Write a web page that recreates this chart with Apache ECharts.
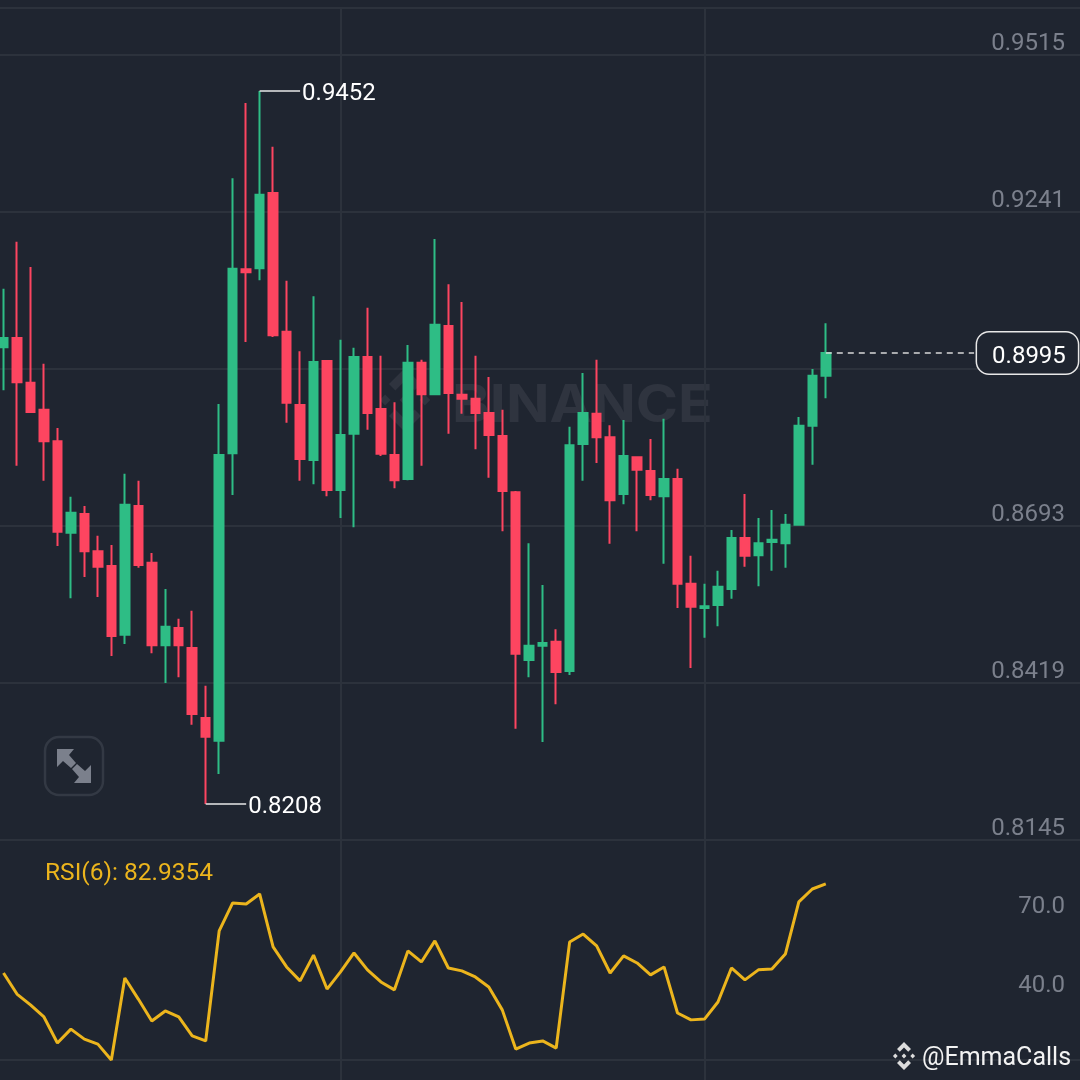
<!DOCTYPE html>
<html>
<head>
<meta charset="utf-8">
<style>html,body{margin:0;padding:0;background:#1f2530}#main{width:1080px;height:1080px}</style>
<script src="https://cdn.jsdelivr.net/npm/echarts@6/dist/echarts.min.js"></script>
</head>
<body>
<div id="main"></div>
<script>
var opens = [.9005,.9021,.8943,.8896,.8841,.8681,.8714,.8649,.8623,.8503,.8728,.8629,.8485,.8515,.8480,.8358,.8318,.8820,.9141,.9143,.9274,
  .9032,.8904,.8808,.8981,.8756,.8854,.8988,.8897,.8817,.8775,.8978,.8923,.9042,.8922,.8915,.8890,.8850,.8752,.8459,.8484,.8491,.8440,
  .8836,.8889,.8848,.8749,.8813,.8789,.8745,.8775,.8592,.8550,.8555,.8583,.8672,.8642,.8665,.8663,.8695,.8868,.8955];
var closes = [.9021,.8944,.8892,.8841,.8683,.8716,.8649,.8622,.8501,.8730,.8625,.8485,.8517,.8485,.8365,.8325,.8817,.9142,.9136,.9271,.9026,
  .8908,.8810,.8979,.8756,.8852,.8988,.8890,.8819,.8773,.8978,.8923,.9044,.8925,.8915,.8890,.8852,.8754,.8470,.8484,.8489,.8438,.8834,
  .8890,.8848,.8738,.8815,.8791,.8747,.8775,.8592,.8552,.8553,.8587,.8672,.8641,.8663,.8669,.8695,.8868,.8955,.8995];
var lows = [.8930,.8798,.8890,.8772,.8658,.8567,.8604,.8569,.8466,.8487,.8620,.8471,.8419,.8429,.8346,.8208,.8260,.8747,.9014,.9122,.9023,
  .8873,.8772,.8766,.8745,.8707,.8691,.8861,.8815,.8759,.8773,.8798,.8923,.8854,.8889,.8827,.8777,.8684,.8339,.8429,.8316,.8382,.8433,
  .8772,.8803,.8662,.8731,.8684,.8738,.8627,.8550,.8445,.8498,.8518,.8566,.8622,.8588,.8615,.8620,.8695,.8800,.8916];
var highs = [.9107,.9189,.9145,.8976,.8864,.8744,.8728,.8676,.8660,.8784,.8772,.8646,.8583,.8531,.8545,.8414,.8906,.9300,.9431,.9452,.9355,
  .9121,.8998,.9094,.8981,.9018,.9004,.9074,.8990,.8909,.9009,.8983,.9194,.9115,.9084,.8990,.8953,.8896,.8754,.8663,.8590,.8513,.8866,
  .8960,.8983,.8869,.8878,.8813,.8845,.8880,.8793,.8641,.8592,.8615,.8686,.8749,.8707,.8721,.8714,.8883,.8967,.9047];
var rsiValues = [49.1,41.1,37.0,32.4,22.5,27.8,24.0,22.1,16.1,47.2,39.2,30.9,34.7,32.4,25.2,23.3,65.1,75.7,75.3,79.1,59.0,
  51.4,46.1,55.9,43.0,49.5,56.7,50.3,45.7,42.7,57.5,53.3,61.3,51.0,49.9,47.6,43.8,35.1,20.2,22.5,23.3,20.6,60.9,
  63.9,59.4,49.1,55.6,52.9,48.4,51.4,33.9,31.3,31.6,38.1,51.0,46.5,50.3,50.6,56.3,76.1,81.0,82.9354];
var priceTicks = [0.8145, 0.8419, 0.8693, 0.8967, 0.9241, 0.9515, 0.9597];
var priceLabels = [0.8145, 0.8419, 0.8693, 0.9241, 0.9515];
var rsiTicks = [16.07];
var rsiLabels = [40, 70];
var timeLines = [25, 52];
var highPoint = { index: 19, value: 0.9452 };
var lowPoint = { index: 15, value: 0.8208 };
var lastPrice = 0.8995;

var candles = opens.map(function (o, i) { return [o, closes[i], lows[i], highs[i]] });
// empty slots on the right, the chart runs on past the last candle
var ids = [];
for (var i = 0; i < 81; i++) ids.push(String(i));

var bg = '#1f2530', gridCol = '#2c323c', axisText = '#7b808c', up = '#2ebd85', down = '#fd4560', rsiCol = '#ecb51d';

function logo(cx, cy, r, color, z) {
  var shapes = [
    [[0, -.17], [.17, 0], [0, .17], [-.17, 0]],
    [[-.62, -.17], [-.45, 0], [-.62, .17], [-.79, 0]],
    [[.62, -.17], [.79, 0], [.62, .17], [.45, 0]],
    [[0, -1], [.5, -.5], [.3, -.3], [0, -.6], [-.3, -.3], [-.5, -.5]],
    [[0, 1], [.5, .5], [.3, .3], [0, .6], [-.3, .3], [-.5, .5]]
  ];
  return shapes.map(function (pts) {
    return {
      type: 'polygon', silent: true, z: z,
      shape: { points: pts.map(function (p) { return [cx + p[0] * r, cy + p[1] * r] }) },
      style: { fill: color }
    };
  });
}

var xBase = {
  type: 'category', data: ids,
  axisLine: { show: false }, axisTick: { show: false }, axisLabel: { show: false },
  splitLine: {
    show: true, alignWithLabel: true,
    interval: function (i) { return timeLines.indexOf(i) >= 0 },
    lineStyle: { color: gridCol, width: 2 }
  }
};
var labelBase = {
  inside: true, margin: 23.6, color: axisText, fontFamily: 'Roboto', fontSize: 24,
  verticalAlign: 'bottom', lineHeight: 22
};
var markLabel = { show: true, position: 'end', distance: 2, offset: [0, 3], color: '#fff', fontFamily: 'Roboto', fontSize: 24 };

var myChart = echarts.init(document.getElementById('main'));
myChart.setOption({
  animation: false,
  backgroundColor: bg,
  grid: [
    { left: -3.24, width: 1091.9, top: 8, height: 832, outerBoundsMode: 'none' },
    { left: -3.24, width: 1091.9, top: 840, height: 240, outerBoundsMode: 'none' }
  ],
  xAxis: [
    xBase,
    Object.assign({}, xBase, { gridIndex: 1 })
  ],
  yAxis: [{
    position: 'right', min: 0.8145, max: 0.9597,
    axisLine: { show: false },
    axisTick: { show: false, customValues: priceTicks },
    axisLabel: Object.assign({}, labelBase, {
      customValues: priceLabels,
      formatter: function (v) { return Number(v).toFixed(4) }
    }),
    splitLine: { show: true, lineStyle: { color: gridCol, width: 2 } }
  }, {
    gridIndex: 1, position: 'right', min: 8.47, max: 99.6,
    axisLine: { show: false },
    axisTick: { show: false, customValues: rsiTicks },
    axisLabel: Object.assign({}, labelBase, {
      customValues: rsiLabels,
      formatter: function (v) { return Number(v).toFixed(1) }
    }),
    splitLine: { show: true, lineStyle: { color: gridCol, width: 2 } }
  }],
  series: [{
    type: 'candlestick',
    data: candles,
    barWidth: 9,
    itemStyle: { color: up, color0: down, borderColor: up, borderColor0: down, borderWidth: 2 },
    markLine: {
      silent: true, symbol: ['none', 'none'], animation: false,
      data: [
        [{
          coord: [highPoint.index, highPoint.value],
          lineStyle: { color: '#e8e8e8', width: 1.5, type: 'solid' },
          label: Object.assign({}, markLabel, { formatter: highPoint.value.toFixed(4) })
        }, { coord: [highPoint.index + 3, highPoint.value] }],
        [{
          coord: [lowPoint.index, lowPoint.value],
          lineStyle: { color: '#e8e8e8', width: 1.5, type: 'solid' },
          label: Object.assign({}, markLabel, { formatter: lowPoint.value.toFixed(4) })
        }, { coord: [lowPoint.index + 3, lowPoint.value] }],
        [{
          coord: [opens.length - 1, lastPrice],
          lineStyle: { color: '#d8d8d8', width: 1.5, type: [6, 5] },
          label: Object.assign({}, markLabel, {
            offset: [0, 0], distance: 3,
            formatter: '{t|' + lastPrice.toFixed(4) + '}',
            rich: { t: { color: '#fff', fontFamily: 'Roboto', fontSize: 24 } },
            backgroundColor: bg, borderColor: '#e8e8e8', borderWidth: 1.5,
            borderRadius: 12, padding: [13, 12, 4, 15]
          })
        }, { coord: [72, lastPrice] }]
      ]
    }
  }, {
    type: 'line',
    xAxisIndex: 1, yAxisIndex: 1,
    data: rsiValues,
    showSymbol: false,
    lineStyle: { color: rsiCol, width: 3 }
  }],
  graphic: [].concat(
    logo(405, 400, 32, '#2f343f', 0),
    logo(904, 1056, 14, '#dcdcdc', 10),
    [
      { type: 'text', silent: true, x: 452, y: 380, scaleX: 1.1, style: { text: 'BINANCE', font: 'bold 52px Inter', fill: '#2f343f' } },
      { type: 'text', x: 45, y: 861, style: { text: 'RSI(6): 82.9354', font: '24.5px Roboto', fill: rsiCol } },
      { type: 'text', z: 10, x: 922, y: 1046, style: { text: '@EmmaCalls', font: '25px Roboto', fill: '#f2f2f2' } },
      { type: 'rect', shape: { x: 45, y: 737, width: 58, height: 58, r: 14 }, style: { fill: 'none', stroke: '#333944', lineWidth: 2.5 } },
      { type: 'polygon', shape: { points: [[57, 749], [74, 749], [69, 755], [76, 763], [71, 768], [63, 761], [57, 767]] }, style: { fill: '#7b808c' } },
      { type: 'polygon', shape: { points: [[91, 783], [74, 783], [79, 777], [72, 769], [77, 764], [85, 771], [91, 765]] }, style: { fill: '#7b808c' } }
    ]
  )
});
</script>
</body>
</html>
